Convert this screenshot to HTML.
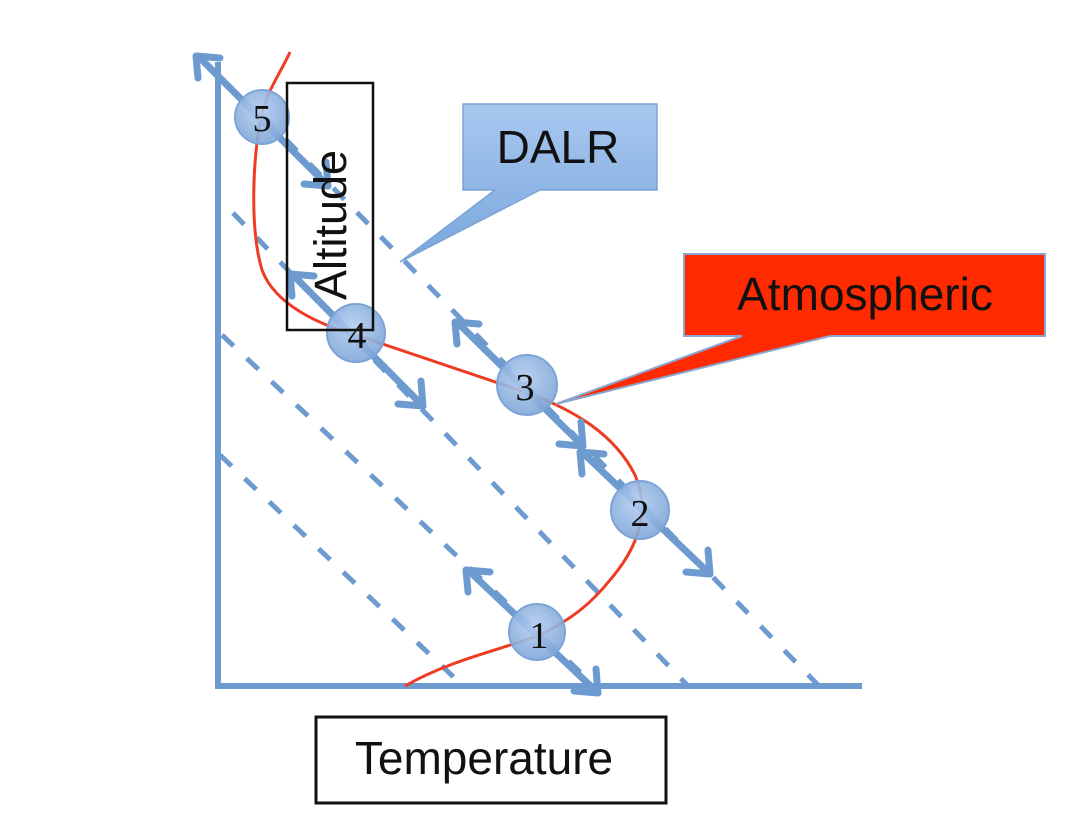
<!DOCTYPE html>
<html><head><meta charset="utf-8"><style>
html,body{margin:0;padding:0;background:#fff;}
svg{display:block;}
text{font-family:"Liberation Sans",sans-serif;}
</style></head><body>
<svg width="1074" height="836" viewBox="0 0 1074 836" xmlns="http://www.w3.org/2000/svg">
<defs>
<radialGradient id="cg" cx="45%" cy="40%" r="60%">
<stop offset="0" stop-color="#b3cdef" stop-opacity="0.9"/>
<stop offset="1" stop-color="#7fa6d8" stop-opacity="0.9"/>
</radialGradient>
<linearGradient id="dg" x1="0" y1="0" x2="0" y2="1">
<stop offset="0" stop-color="#a9c8f0"/>
<stop offset="1" stop-color="#79a6dc"/>
</linearGradient>
</defs>
<g stroke="#6d9bcf" fill="none">
<!-- axes -->
<line x1="218" y1="62" x2="218" y2="686" stroke-width="6"/>
<line x1="215" y1="686" x2="862" y2="686" stroke-width="6"/>
<!-- dashed DALR lines -->
<g stroke-width="5" stroke-dasharray="16 18">
<line x1="220" y1="455" x2="463" y2="686"/>
<line x1="222" y1="335" x2="595" y2="686"/>
<line x1="233" y1="213" x2="688" y2="686"/>
<line x1="262" y1="115" x2="819" y2="686"/>
</g>
</g>
<!-- red curve -->
<path d="M290,52 C282,70 268,90 262,112 C252,160 250,230 262,270 C275,305 320,325 356,335 C400,350 460,370 525,392 C575,410 615,435 635,475 C650,510 640,545 610,580 C590,605 570,620 540,635 C500,650 450,660 405,686" fill="none" stroke="#ee3b24" stroke-width="3"/>
<!-- double-headed arrows -->
<g stroke="#6d9bcf" stroke-width="7" fill="none" stroke-linecap="round" stroke-linejoin="round">
<line x1="198" y1="56" x2="328" y2="186"/>
<polyline points="198,78 196,56 220,58"/><polyline points="304,184 328,186 326,162"/>
<line x1="292" y1="274" x2="423" y2="406"/>
<polyline points="292,296 290,274 314,276"/><polyline points="398,404 423,406 421,381"/>
<line x1="457" y1="322" x2="583" y2="446"/>
<polyline points="457,344 455,322 479,324"/><polyline points="559,444 583,446 581,422"/>
<line x1="582" y1="452" x2="710" y2="574"/>
<polyline points="582,474 580,452 604,454"/><polyline points="686,572 710,574 708,550"/>
<line x1="468" y1="570" x2="598" y2="693"/>
<polyline points="468,592 466,570 490,572"/><polyline points="574,691 598,693 596,669"/>
</g>
<!-- circles -->
<g stroke="#7ca4d6" stroke-width="2" fill="url(#cg)">
<circle cx="262" cy="117" r="27"/>
<circle cx="356" cy="333" r="29"/>
<circle cx="527" cy="385" r="30"/>
<circle cx="640" cy="510" r="29"/>
<circle cx="537" cy="632" r="28"/>
</g>
<g font-family="'Liberation Serif',serif" font-size="38" fill="#111" text-anchor="middle">
<text x="262" y="131" style="font-family:'Liberation Serif',serif">5</text>
<text x="357" y="348" style="font-family:'Liberation Serif',serif">4</text>
<text x="525" y="400" style="font-family:'Liberation Serif',serif">3</text>
<text x="640" y="526" style="font-family:'Liberation Serif',serif">2</text>
<text x="539" y="648" style="font-family:'Liberation Serif',serif">1</text>
</g>
<!-- Altitude box -->
<rect x="287" y="83" width="86" height="247" fill="none" stroke="#111" stroke-width="2.5"/>
<text x="0" y="0" font-size="45" fill="#111" text-anchor="middle" transform="translate(346,225) rotate(-90)">Altitude</text>
<!-- Temperature box -->
<rect x="316" y="717" width="350" height="86" fill="#fff" stroke="#111" stroke-width="3"/>
<text x="484" y="774" font-size="46" fill="#111" text-anchor="middle">Temperature</text>
<!-- DALR callout -->
<path d="M463,104 H657 V190 H540 L400,262 L495,190 H463 Z" fill="url(#dg)" stroke="#79a3d6" stroke-width="1.5"/>
<text x="558" y="163" font-size="46" fill="#111" text-anchor="middle">DALR</text>
<!-- Atmospheric callout -->
<path d="M684,254 H1045 V336 H830 L556,404 L742,336 H684 Z" fill="#ff2a00" stroke="#8aa5d0" stroke-width="2"/>
<text x="865" y="310" font-size="46" fill="#111" text-anchor="middle">Atmospheric</text>
</svg>
</body></html>
